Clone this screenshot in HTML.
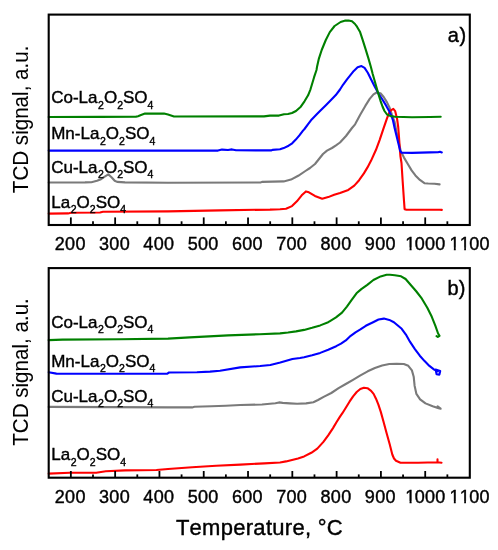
<!DOCTYPE html>
<html><head><meta charset="utf-8"><style>
html,body{margin:0;padding:0;background:#fff;}
svg{display:block;}
text{font-kerning:none;font-feature-settings:"kern" 0;font-family:"Liberation Sans",sans-serif;fill:#000;stroke:#000;stroke-width:0.4px;}
.tl{font-size:18px;text-anchor:middle;letter-spacing:0.3px;}
.yt{letter-spacing:0px;stroke-width:0.05px;}
.leg{font-size:17px;}
.sub{font-size:10.5px;}
.ti{font-size:22px;}
.pl{font-size:20px;}
.ax{fill:none;stroke:#000;stroke-width:2.1;}
.tk{stroke:#000;stroke-width:1.8;}
path{fill:none;stroke-width:2.1;stroke-linejoin:round;stroke-linecap:round;}
</style></head><body>
<svg width="498" height="550" viewBox="0 0 498 550">
<rect width="498" height="550" fill="#fff"/>

<path d="M48.7,182.5 L85.0,182.4 L91.4,182.2 L97.0,180.8 L101.0,179.2 L104.3,176.8 L108.3,174.4 L111.5,177.2 L114.7,180.8 L117.1,181.9 L125.0,182.4 L168.0,182.7 L260.5,182.5 L262.0,181.9 L283.7,181.4 L291.0,179.6 L298.2,175.8 L305.4,171.0 L310.0,168.0 L315.0,164.0 L319.0,159.0 L323.0,154.0 L327.0,150.6 L332.0,148.0 L336.0,145.4 L340.0,142.5 L346.0,136.0 L352.0,128.0 L355.1,124.3 L360.2,114.8 L365.3,105.9 L369.7,98.9 L373.5,94.4 L376.7,92.5 L380.5,93.2 L383.7,97.0 L386.9,102.1 L389.4,107.2 L392.0,114.8 L394.5,121.5 L396.5,132.0 L399.0,143.4 L400.8,151.3 L404.0,157.6 L407.8,164.0 L411.6,170.4 L415.4,175.4 L419.9,179.9 L424.4,183.2 L428.2,183.5 L434.5,183.7 L439.6,184.4" stroke="#7a7a7a" />
<path d="M48.7,213.6 L68.0,213.4 L71.0,212.7 L100.0,212.5 L103.0,211.8 L168.0,211.4 L220.0,210.4 L270.0,209.6 L280.0,209.2 L286.0,208.8 L292.0,206.1 L296.9,201.3 L301.7,195.3 L305.9,191.4 L308.9,192.3 L314.9,195.9 L322.2,198.7 L328.2,197.1 L334.2,194.7 L340.0,192.9 L348.3,189.9 L354.3,185.6 L359.1,180.2 L363.9,173.4 L367.5,167.4 L371.1,160.6 L376.0,149.8 L379.6,140.1 L383.2,129.3 L386.8,118.8 L388.8,113.6 L390.9,110.3 L393.3,108.9 L395.2,111.2 L397.1,119.0 L398.2,127.0 L399.0,137.0 L399.7,147.3 L400.4,156.0 L401.5,163.0 L402.7,181.8 L404.0,200.9 L404.6,209.2 L406.5,209.8 L439.6,209.8 L441.8,209.9" stroke="#ff0000" />
<path d="M48.7,150.6 L218.0,150.6 L222.0,149.6 L228.0,150.0 L232.0,149.4 L236.0,150.3 L271.5,150.4 L272.5,149.9 L280.0,149.3 L283.7,148.1 L288.6,145.7 L292.2,143.3 L295.8,139.6 L299.4,135.4 L303.0,130.6 L304.5,129.0 L308.1,124.2 L311.7,119.4 L316.5,114.6 L321.0,110.0 L326.1,104.9 L331.0,100.0 L335.8,95.1 L340.0,89.5 L343.0,84.8 L347.0,79.3 L350.0,75.6 L353.8,70.9 L357.6,67.3 L361.5,66.1 L364.6,67.9 L367.8,72.8 L371.0,79.2 L374.8,86.8 L378.6,93.8 L382.4,99.5 L386.3,105.9 L389.4,111.6 L391.5,116.0 L393.0,120.5 L394.6,128.0 L396.5,135.8 L398.4,143.4 L400.2,151.0 L401.6,152.8 L412.0,152.9 L430.0,152.4 L438.0,152.2 L440.0,151.7 L441.8,152.4" stroke="#0000ff" />
<path d="M48.7,117.0 L100.0,116.9 L136.0,116.6 L138.0,116.2 L141.0,115.0 L145.0,113.6 L164.0,113.6 L168.0,114.6 L174.0,116.5 L264.0,116.4 L270.0,115.6 L279.0,115.6 L284.0,114.3 L288.0,114.0 L292.0,113.0 L296.0,111.0 L300.8,106.7 L304.5,101.3 L308.1,95.3 L310.5,89.3 L312.3,83.3 L314.1,77.2 L316.5,70.0 L317.1,66.4 L318.9,58.6 L321.7,50.0 L325.8,40.0 L329.8,32.1 L334.6,26.0 L340.6,22.0 L345.4,20.6 L348.5,20.5 L352.0,21.3 L355.0,24.0 L357.0,26.7 L360.1,32.1 L362.5,39.3 L365.5,48.9 L368.5,58.6 L370.9,67.0 L372.7,74.0 L374.2,79.2 L377.4,90.6 L380.5,100.8 L382.5,106.5 L384.5,111.0 L387.0,114.5 L390.7,116.1 L395.0,116.7 L412.0,117.2 L430.0,117.0 L440.7,116.8" stroke="#008000" />
<path d="M48.7,406.9 L110.0,407.1 L168.0,407.4 L192.1,407.4 L194.5,406.8 L211.4,406.2 L225.8,405.7 L240.3,405.0 L262.0,404.5 L270.0,403.8 L275.4,403.3 L279.0,402.4 L282.7,402.9 L289.9,403.4 L297.1,403.8 L306.1,403.4 L313.4,402.2 L318.0,400.0 L324.1,396.6 L331.3,393.0 L338.6,388.2 L345.8,384.0 L353.0,379.8 L360.0,375.6 L367.7,371.3 L374.9,368.0 L382.1,365.5 L389.3,364.0 L396.6,363.7 L403.8,364.0 L408.3,365.8 L411.9,370.4 L413.7,376.7 L414.6,385.7 L416.4,393.9 L420.1,399.3 L425.5,403.4 L432.7,406.3 L438.6,408.3 L440.6,408.7 L437.6,406.4" stroke="#7a7a7a" />
<path d="M48.7,473.6 L69.7,472.8 L96.2,472.8 L105.8,471.2 L125.1,470.4 L156.4,470.0 L168.0,469.0 L192.1,467.2 L216.2,465.8 L240.3,464.6 L264.4,463.4 L280.0,462.5 L286.0,461.4 L292.0,460.0 L298.0,458.5 L304.1,456.4 L311.3,452.8 L317.3,448.6 L323.4,441.9 L328.2,435.3 L333.0,428.1 L336.6,422.0 L340.0,416.6 L342.4,413.2 L345.8,407.7 L349.5,401.7 L353.1,396.3 L356.7,392.0 L360.3,389.0 L363.9,387.8 L367.5,388.2 L371.1,390.8 L373.6,393.9 L376.0,398.7 L378.4,404.7 L380.8,411.9 L383.4,421.2 L386.5,432.8 L389.7,444.3 L392.3,454.5 L394.0,458.5 L396.0,460.8 L400.5,462.7 L418.2,462.7 L437.5,462.3 L437.5,459.4 L437.5,462.3 L441.5,462.7" stroke="#ff0000" />
<path d="M48.7,372.2 L56.4,373.6 L120.0,373.8 L167.0,373.8 L169.0,372.5 L196.9,372.3 L210.0,371.6 L220.0,370.7 L240.2,367.4 L260.2,366.0 L270.3,365.0 L280.3,362.6 L292.4,359.0 L300.0,358.0 L304.1,357.3 L312.1,355.3 L320.2,352.9 L328.2,349.7 L336.2,346.2 L341.0,343.6 L345.8,340.4 L350.7,335.8 L355.5,332.3 L360.4,329.4 L365.8,325.8 L373.1,322.2 L378.5,319.5 L383.9,318.6 L389.3,319.9 L393.9,322.2 L397.5,325.3 L401.7,328.8 L405.9,334.6 L410.1,341.9 L414.9,349.1 L419.8,355.7 L424.6,361.1 L429.4,365.9 L434.2,369.6 L437.8,371.4" stroke="#0000ff" />
<path d="M48.7,340.1 L62.5,339.6 L120.0,339.2 L168.0,338.6 L189.7,337.4 L213.8,336.1 L228.0,335.4 L259.6,334.2 L280.0,333.4 L288.0,332.5 L296.0,331.4 L304.1,329.9 L312.1,327.8 L320.2,325.4 L328.2,322.2 L330.0,321.1 L336.0,317.4 L342.0,312.6 L346.9,306.6 L351.7,299.9 L356.5,293.3 L361.3,289.1 L367.3,284.9 L373.4,280.0 L380.6,276.4 L386.6,274.8 L390.0,274.8 L394.8,275.2 L401.1,276.3 L405.6,279.0 L411.0,285.2 L416.4,291.5 L421.9,298.7 L427.3,307.8 L431.8,316.8 L435.4,325.8 L438.1,333.5 L439.5,335.8 L437.8,337.0 L436.6,336.2" stroke="#008000" />
<path d="M435.6,369.6 L440.2,371 L439.4,374.6 L436.6,374.2 Z" fill="#0000ff" stroke="#0000ff" stroke-width="0.8"/>
<rect x="48.7" y="14.6" width="421.1" height="210.4" class="ax"/>
<line x1="70.85" y1="225.0" x2="70.85" y2="217.4" class="tk"/>
<line x1="93.00" y1="225.0" x2="93.00" y2="221.3" class="tk"/>
<line x1="115.14" y1="225.0" x2="115.14" y2="217.4" class="tk"/>
<line x1="137.29" y1="225.0" x2="137.29" y2="221.3" class="tk"/>
<line x1="159.44" y1="225.0" x2="159.44" y2="217.4" class="tk"/>
<line x1="181.58" y1="225.0" x2="181.58" y2="221.3" class="tk"/>
<line x1="203.73" y1="225.0" x2="203.73" y2="217.4" class="tk"/>
<line x1="225.88" y1="225.0" x2="225.88" y2="221.3" class="tk"/>
<line x1="248.03" y1="225.0" x2="248.03" y2="217.4" class="tk"/>
<line x1="270.18" y1="225.0" x2="270.18" y2="221.3" class="tk"/>
<line x1="292.32" y1="225.0" x2="292.32" y2="217.4" class="tk"/>
<line x1="314.47" y1="225.0" x2="314.47" y2="221.3" class="tk"/>
<line x1="336.62" y1="225.0" x2="336.62" y2="217.4" class="tk"/>
<line x1="358.76" y1="225.0" x2="358.76" y2="221.3" class="tk"/>
<line x1="380.91" y1="225.0" x2="380.91" y2="217.4" class="tk"/>
<line x1="403.06" y1="225.0" x2="403.06" y2="221.3" class="tk"/>
<line x1="425.21" y1="225.0" x2="425.21" y2="217.4" class="tk"/>
<line x1="447.36" y1="225.0" x2="447.36" y2="221.3" class="tk"/>
<text x="70.25" y="250.0" class="tl">200</text>
<text x="114.54" y="250.0" class="tl">300</text>
<text x="158.84" y="250.0" class="tl">400</text>
<text x="203.13" y="250.0" class="tl">500</text>
<text x="247.43" y="250.0" class="tl">600</text>
<text x="291.72" y="250.0" class="tl">700</text>
<text x="336.02" y="250.0" class="tl">800</text>
<text x="380.31" y="250.0" class="tl">900</text>
<text x="424.61" y="250.0" class="tl"><tspan dx="0.8">1</tspan><tspan dx="-0.8">0</tspan>00</text>
<text x="468.90" y="250.0" class="tl"><tspan dx="0.8">1</tspan>1<tspan dx="-0.8">0</tspan>0</text>
<rect x="48.7" y="268.1" width="421.1" height="209.6" class="ax"/>
<line x1="70.85" y1="477.7" x2="70.85" y2="471.0" class="tk"/>
<line x1="93.00" y1="477.7" x2="93.00" y2="474.4" class="tk"/>
<line x1="115.14" y1="477.7" x2="115.14" y2="471.0" class="tk"/>
<line x1="137.29" y1="477.7" x2="137.29" y2="474.4" class="tk"/>
<line x1="159.44" y1="477.7" x2="159.44" y2="471.0" class="tk"/>
<line x1="181.58" y1="477.7" x2="181.58" y2="474.4" class="tk"/>
<line x1="203.73" y1="477.7" x2="203.73" y2="471.0" class="tk"/>
<line x1="225.88" y1="477.7" x2="225.88" y2="474.4" class="tk"/>
<line x1="248.03" y1="477.7" x2="248.03" y2="471.0" class="tk"/>
<line x1="270.18" y1="477.7" x2="270.18" y2="474.4" class="tk"/>
<line x1="292.32" y1="477.7" x2="292.32" y2="471.0" class="tk"/>
<line x1="314.47" y1="477.7" x2="314.47" y2="474.4" class="tk"/>
<line x1="336.62" y1="477.7" x2="336.62" y2="471.0" class="tk"/>
<line x1="358.76" y1="477.7" x2="358.76" y2="474.4" class="tk"/>
<line x1="380.91" y1="477.7" x2="380.91" y2="471.0" class="tk"/>
<line x1="403.06" y1="477.7" x2="403.06" y2="474.4" class="tk"/>
<line x1="425.21" y1="477.7" x2="425.21" y2="471.0" class="tk"/>
<line x1="447.36" y1="477.7" x2="447.36" y2="474.4" class="tk"/>
<text x="70.25" y="503.4" class="tl">200</text>
<text x="114.54" y="503.4" class="tl">300</text>
<text x="158.84" y="503.4" class="tl">400</text>
<text x="203.13" y="503.4" class="tl">500</text>
<text x="247.43" y="503.4" class="tl">600</text>
<text x="291.72" y="503.4" class="tl">700</text>
<text x="336.02" y="503.4" class="tl">800</text>
<text x="380.31" y="503.4" class="tl">900</text>
<text x="424.61" y="503.4" class="tl"><tspan dx="0.8">1</tspan><tspan dx="-0.8">0</tspan>00</text>
<text x="468.90" y="503.4" class="tl"><tspan dx="0.8">1</tspan>1<tspan dx="-0.8">0</tspan>0</text>
<text x="51.2" y="103.4" class="leg">Co-La<tspan class="sub" dx="0.6" dy="5.5">2</tspan><tspan dy="-5.5">O</tspan><tspan class="sub" dy="5.5">2</tspan><tspan dy="-5.5">SO</tspan><tspan class="sub" dy="5.6">4</tspan></text>
<text x="51.2" y="139.0" class="leg">Mn-La<tspan class="sub" dx="0.6" dy="5.5">2</tspan><tspan dy="-5.5">O</tspan><tspan class="sub" dy="5.5">2</tspan><tspan dy="-5.5">SO</tspan><tspan class="sub" dy="5.6">4</tspan></text>
<text x="51.2" y="172.6" class="leg">Cu-La<tspan class="sub" dx="0.6" dy="5.5">2</tspan><tspan dy="-5.5">O</tspan><tspan class="sub" dy="5.5">2</tspan><tspan dy="-5.5">SO</tspan><tspan class="sub" dy="5.6">4</tspan></text>
<text x="51.2" y="207.5" class="leg">La<tspan class="sub" dx="0.6" dy="5.5">2</tspan><tspan dy="-5.5">O</tspan><tspan class="sub" dy="5.5">2</tspan><tspan dy="-5.5">SO</tspan><tspan class="sub" dy="5.6">4</tspan></text>
<text x="51.2" y="327.5" class="leg">Co-La<tspan class="sub" dx="0.6" dy="5.5">2</tspan><tspan dy="-5.5">O</tspan><tspan class="sub" dy="5.5">2</tspan><tspan dy="-5.5">SO</tspan><tspan class="sub" dy="5.6">4</tspan></text>
<text x="51.2" y="366.6" class="leg">Mn-La<tspan class="sub" dx="0.6" dy="5.5">2</tspan><tspan dy="-5.5">O</tspan><tspan class="sub" dy="5.5">2</tspan><tspan dy="-5.5">SO</tspan><tspan class="sub" dy="5.6">4</tspan></text>
<text x="51.2" y="401.5" class="leg">Cu-La<tspan class="sub" dx="0.6" dy="5.5">2</tspan><tspan dy="-5.5">O</tspan><tspan class="sub" dy="5.5">2</tspan><tspan dy="-5.5">SO</tspan><tspan class="sub" dy="5.6">4</tspan></text>
<text x="51.2" y="460.3" class="leg">La<tspan class="sub" dx="0.6" dy="5.5">2</tspan><tspan dy="-5.5">O</tspan><tspan class="sub" dy="5.5">2</tspan><tspan dy="-5.5">SO</tspan><tspan class="sub" dy="5.6">4</tspan></text>
<text x="447.7" y="41.8" class="pl" style="letter-spacing:0.8px">a)</text>
<text x="447.6" y="294.6" class="pl">b)</text>
<text x="175.9" y="534.8" class="ti" style="letter-spacing:0.28px">Temperature, °C</text>
<text transform="translate(28.0,193.2) rotate(-90) scale(0.937,1)" class="ti yt">TCD signal, a.u.</text>
<text transform="translate(28.1,445.8) rotate(-90) scale(0.937,1)" class="ti yt">TCD signal, a.u.</text>
<rect x="405.30" y="247.55" width="4.25" height="3.4" fill="#fff"/>
<rect x="411.60" y="247.55" width="3.60" height="3.4" fill="#fff"/>
<rect x="449.30" y="247.55" width="4.55" height="3.4" fill="#fff"/>
<rect x="455.75" y="247.55" width="8.45" height="3.4" fill="#fff"/>
<rect x="465.95" y="247.55" width="3.45" height="3.4" fill="#fff"/>
<rect x="405.30" y="500.95" width="4.25" height="3.4" fill="#fff"/>
<rect x="411.60" y="500.95" width="3.60" height="3.4" fill="#fff"/>
<rect x="449.30" y="500.95" width="4.55" height="3.4" fill="#fff"/>
<rect x="455.75" y="500.95" width="8.45" height="3.4" fill="#fff"/>
<rect x="465.95" y="500.95" width="3.45" height="3.4" fill="#fff"/>
</svg>
</body></html>
